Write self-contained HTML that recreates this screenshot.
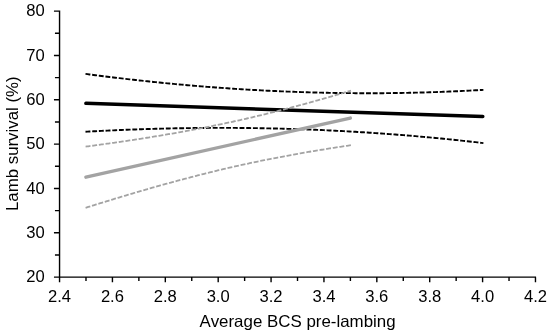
<!DOCTYPE html>
<html><head><meta charset="utf-8"><title>Lamb survival</title>
<style>
html,body{margin:0;padding:0;background:#fff;}
svg{display:block;}
text{font-family:"Liberation Sans",sans-serif;font-size:16.6px;fill:#000;font-kerning:none;}
</style></head><body>
<svg width="550" height="335" viewBox="0 0 550 335">
<rect width="550" height="335" fill="#fff"/>

<path d="M85.50,73.61 L87.50,73.88 L89.50,74.14 L91.50,74.40 L93.50,74.66 L95.50,74.92 L97.50,75.18 L99.50,75.43 L101.50,75.69 L103.50,75.94 L105.49,76.19 L107.49,76.43 L109.49,76.68 L111.49,76.92 L113.49,77.17 L115.49,77.41 L117.49,77.65 L119.49,77.88 L121.49,78.12 L123.49,78.35 L125.49,78.58 L127.49,78.81 L129.49,79.04 L131.49,79.27 L133.49,79.49 L135.49,79.71 L137.49,79.94 L139.49,80.16 L141.49,80.37 L143.49,80.59 L145.48,80.80 L147.48,81.01 L149.48,81.22 L151.48,81.43 L153.48,81.64 L155.48,81.85 L157.48,82.05 L159.48,82.25 L161.48,82.45 L163.48,82.65 L165.48,82.84 L167.48,83.04 L169.48,83.23 L171.48,83.42 L173.48,83.61 L175.48,83.79 L177.48,83.98 L179.48,84.16 L181.48,84.34 L183.48,84.52 L185.47,84.70 L187.47,84.88 L189.47,85.05 L191.47,85.22 L193.47,85.39 L195.47,85.56 L197.47,85.73 L199.47,85.89 L201.47,86.06 L203.47,86.22 L205.47,86.38 L207.47,86.53 L209.47,86.69 L211.47,86.84 L213.47,87.00 L215.47,87.15 L217.47,87.29 L219.47,87.44 L221.47,87.58 L223.47,87.73 L225.46,87.87 L227.46,88.01 L229.46,88.14 L231.46,88.28 L233.46,88.41 L235.46,88.54 L237.46,88.67 L239.46,88.80 L241.46,88.92 L243.46,89.05 L245.46,89.17 L247.46,89.29 L249.46,89.41 L251.46,89.52 L253.46,89.64 L255.46,89.75 L257.46,89.86 L259.46,89.97 L261.46,90.07 L263.46,90.18 L265.45,90.28 L267.45,90.38 L269.45,90.48 L271.45,90.58 L273.45,90.67 L275.45,90.77 L277.45,90.86 L279.45,90.95 L281.45,91.03 L283.45,91.12 L285.45,91.20 L287.45,91.28 L289.45,91.36 L291.45,91.44 L293.45,91.52 L295.45,91.59 L297.45,91.66 L299.45,91.73 L301.45,91.80 L303.45,91.87 L305.44,91.93 L307.44,91.99 L309.44,92.05 L311.44,92.11 L313.44,92.17 L315.44,92.22 L317.44,92.27 L319.44,92.32 L321.44,92.37 L323.44,92.42 L325.44,92.46 L327.44,92.50 L329.44,92.54 L331.44,92.58 L333.44,92.62 L335.44,92.65 L337.44,92.69 L339.44,92.72 L341.44,92.74 L343.44,92.77 L345.43,92.79 L347.43,92.82 L349.43,92.84 L351.43,92.86 L353.43,92.87 L355.43,92.89 L357.43,92.90 L359.43,92.91 L361.43,92.92 L363.43,92.92 L365.43,92.93 L367.43,92.93 L369.43,92.93 L371.43,92.93 L373.43,92.92 L375.43,92.92 L377.43,92.91 L379.43,92.90 L381.43,92.89 L383.43,92.88 L385.42,92.86 L387.42,92.84 L389.42,92.82 L391.42,92.80 L393.42,92.77 L395.42,92.75 L397.42,92.72 L399.42,92.69 L401.42,92.66 L403.42,92.62 L405.42,92.59 L407.42,92.55 L409.42,92.51 L411.42,92.46 L413.42,92.42 L415.42,92.37 L417.42,92.32 L419.42,92.27 L421.42,92.22 L423.42,92.16 L425.41,92.11 L427.41,92.05 L429.41,91.99 L431.41,91.92 L433.41,91.86 L435.41,91.79 L437.41,91.72 L439.41,91.65 L441.41,91.57 L443.41,91.50 L445.41,91.42 L447.41,91.34 L449.41,91.26 L451.41,91.17 L453.41,91.09 L455.41,91.00 L457.41,90.91 L459.41,90.81 L461.41,90.72 L463.41,90.62 L465.40,90.52 L467.40,90.42 L469.40,90.32 L471.40,90.21 L473.40,90.10 L475.40,89.99 L477.40,89.88 L479.40,89.77 L481.40,89.65 L483.40,89.53" fill="none" stroke="#000" stroke-width="1.9" stroke-dasharray="4.9 1.8" transform="translate(0,0.3)"/>
<path d="M85.50,131.77 L87.50,131.65 L89.50,131.54 L91.50,131.43 L93.50,131.32 L95.50,131.22 L97.50,131.11 L99.50,131.01 L101.50,130.91 L103.50,130.81 L105.49,130.71 L107.49,130.61 L109.49,130.52 L111.49,130.42 L113.49,130.33 L115.49,130.24 L117.49,130.15 L119.49,130.07 L121.49,129.98 L123.49,129.90 L125.49,129.82 L127.49,129.74 L129.49,129.66 L131.49,129.58 L133.49,129.51 L135.49,129.44 L137.49,129.36 L139.49,129.29 L141.49,129.23 L143.49,129.16 L145.48,129.09 L147.48,129.03 L149.48,128.97 L151.48,128.91 L153.48,128.85 L155.48,128.79 L157.48,128.74 L159.48,128.69 L161.48,128.64 L163.48,128.59 L165.48,128.54 L167.48,128.49 L169.48,128.45 L171.48,128.40 L173.48,128.36 L175.48,128.32 L177.48,128.28 L179.48,128.25 L181.48,128.21 L183.48,128.18 L185.47,128.15 L187.47,128.12 L189.47,128.09 L191.47,128.07 L193.47,128.04 L195.47,128.02 L197.47,128.00 L199.47,127.98 L201.47,127.96 L203.47,127.95 L205.47,127.93 L207.47,127.92 L209.47,127.91 L211.47,127.90 L213.47,127.89 L215.47,127.89 L217.47,127.88 L219.47,127.88 L221.47,127.88 L223.47,127.88 L225.46,127.88 L227.46,127.89 L229.46,127.90 L231.46,127.90 L233.46,127.91 L235.46,127.92 L237.46,127.94 L239.46,127.95 L241.46,127.97 L243.46,127.99 L245.46,128.01 L247.46,128.03 L249.46,128.05 L251.46,128.08 L253.46,128.11 L255.46,128.14 L257.46,128.17 L259.46,128.20 L261.46,128.23 L263.46,128.27 L265.45,128.31 L267.45,128.35 L269.45,128.39 L271.45,128.43 L273.45,128.47 L275.45,128.52 L277.45,128.57 L279.45,128.62 L281.45,128.67 L283.45,128.72 L285.45,128.78 L287.45,128.84 L289.45,128.89 L291.45,128.95 L293.45,129.02 L295.45,129.08 L297.45,129.15 L299.45,129.21 L301.45,129.28 L303.45,129.35 L305.44,129.43 L307.44,129.50 L309.44,129.58 L311.44,129.65 L313.44,129.73 L315.44,129.82 L317.44,129.90 L319.44,129.98 L321.44,130.07 L323.44,130.16 L325.44,130.25 L327.44,130.34 L329.44,130.43 L331.44,130.53 L333.44,130.63 L335.44,130.73 L337.44,130.83 L339.44,130.93 L341.44,131.04 L343.44,131.14 L345.43,131.25 L347.43,131.36 L349.43,131.47 L351.43,131.58 L353.43,131.70 L355.43,131.82 L357.43,131.94 L359.43,132.06 L361.43,132.18 L363.43,132.30 L365.43,132.43 L367.43,132.56 L369.43,132.69 L371.43,132.82 L373.43,132.95 L375.43,133.09 L377.43,133.22 L379.43,133.36 L381.43,133.50 L383.43,133.64 L385.42,133.79 L387.42,133.93 L389.42,134.08 L391.42,134.23 L393.42,134.38 L395.42,134.53 L397.42,134.69 L399.42,134.85 L401.42,135.00 L403.42,135.16 L405.42,135.33 L407.42,135.49 L409.42,135.66 L411.42,135.82 L413.42,135.99 L415.42,136.16 L417.42,136.34 L419.42,136.51 L421.42,136.69 L423.42,136.87 L425.41,137.05 L427.41,137.23 L429.41,137.41 L431.41,137.60 L433.41,137.79 L435.41,137.98 L437.41,138.17 L439.41,138.36 L441.41,138.56 L443.41,138.75 L445.41,138.95 L447.41,139.15 L449.41,139.35 L451.41,139.56 L453.41,139.76 L455.41,139.97 L457.41,140.18 L459.41,140.39 L461.41,140.61 L463.41,140.82 L465.40,141.04 L467.40,141.26 L469.40,141.48 L471.40,141.70 L473.40,141.92 L475.40,142.15 L477.40,142.38 L479.40,142.61 L481.40,142.84 L483.40,143.07" fill="none" stroke="#000" stroke-width="1.9" stroke-dasharray="4.9 1.8"/>
<path d="M85.90,103.00 L482.80,116.20" fill="none" stroke="#000" stroke-width="3.5" stroke-linecap="round" transform="translate(0,0.35)"/>
<path d="M85.60,146.63 L86.93,146.45 L88.27,146.27 L89.60,146.09 L90.93,145.92 L92.27,145.74 L93.60,145.56 L94.94,145.38 L96.27,145.19 L97.60,145.01 L98.94,144.83 L100.27,144.65 L101.60,144.46 L102.94,144.28 L104.27,144.09 L105.61,143.91 L106.94,143.72 L108.27,143.53 L109.61,143.34 L110.94,143.15 L112.27,142.97 L113.61,142.78 L114.94,142.58 L116.27,142.39 L117.61,142.20 L118.94,142.01 L120.28,141.81 L121.61,141.62 L122.94,141.42 L124.28,141.23 L125.61,141.03 L126.94,140.83 L128.28,140.63 L129.61,140.43 L130.94,140.23 L132.28,140.03 L133.61,139.83 L134.95,139.62 L136.28,139.42 L137.61,139.22 L138.95,139.01 L140.28,138.80 L141.61,138.59 L142.95,138.39 L144.28,138.18 L145.62,137.97 L146.95,137.75 L148.28,137.54 L149.62,137.33 L150.95,137.11 L152.28,136.90 L153.62,136.68 L154.95,136.46 L156.28,136.25 L157.62,136.03 L158.95,135.81 L160.29,135.58 L161.62,135.36 L162.95,135.14 L164.29,134.91 L165.62,134.69 L166.95,134.46 L168.29,134.23 L169.62,134.00 L170.95,133.77 L172.29,133.54 L173.62,133.31 L174.96,133.07 L176.29,132.84 L177.62,132.60 L178.96,132.36 L180.29,132.13 L181.62,131.89 L182.96,131.65 L184.29,131.40 L185.63,131.16 L186.96,130.91 L188.29,130.67 L189.63,130.42 L190.96,130.17 L192.29,129.92 L193.63,129.67 L194.96,129.42 L196.29,129.16 L197.63,128.91 L198.96,128.65 L200.30,128.40 L201.63,128.14 L202.96,127.88 L204.30,127.61 L205.63,127.35 L206.96,127.09 L208.30,126.82 L209.63,126.55 L210.96,126.28 L212.30,126.01 L213.63,125.74 L214.97,125.47 L216.30,125.20 L217.63,124.92 L218.97,124.64 L220.30,124.37 L221.63,124.09 L222.97,123.80 L224.30,123.52 L225.64,123.24 L226.97,122.95 L228.30,122.67 L229.64,122.38 L230.97,122.09 L232.30,121.80 L233.64,121.50 L234.97,121.21 L236.30,120.91 L237.64,120.62 L238.97,120.32 L240.31,120.02 L241.64,119.72 L242.97,119.42 L244.31,119.11 L245.64,118.81 L246.97,118.50 L248.31,118.19 L249.64,117.88 L250.97,117.57 L252.31,117.26 L253.64,116.94 L254.98,116.63 L256.31,116.31 L257.64,115.99 L258.98,115.67 L260.31,115.35 L261.64,115.03 L262.98,114.71 L264.31,114.38 L265.65,114.05 L266.98,113.73 L268.31,113.40 L269.65,113.07 L270.98,112.73 L272.31,112.40 L273.65,112.07 L274.98,111.73 L276.31,111.39 L277.65,111.05 L278.98,110.71 L280.32,110.37 L281.65,110.03 L282.98,109.69 L284.32,109.34 L285.65,108.99 L286.98,108.65 L288.32,108.30 L289.65,107.95 L290.98,107.59 L292.32,107.24 L293.65,106.89 L294.99,106.53 L296.32,106.17 L297.65,105.82 L298.99,105.46 L300.32,105.10 L301.65,104.74 L302.99,104.37 L304.32,104.01 L305.66,103.65 L306.99,103.28 L308.32,102.91 L309.66,102.54 L310.99,102.17 L312.32,101.80 L313.66,101.43 L314.99,101.06 L316.32,100.69 L317.66,100.31 L318.99,99.94 L320.33,99.56 L321.66,99.18 L322.99,98.80 L324.33,98.42 L325.66,98.04 L326.99,97.66 L328.33,97.28 L329.66,96.89 L330.99,96.51 L332.33,96.12 L333.66,95.73 L335.00,95.35 L336.33,94.96 L337.66,94.57 L339.00,94.18 L340.33,93.79 L341.66,93.39 L343.00,93.00 L344.33,92.61 L345.67,92.21 L347.00,91.81 L348.33,91.42 L349.67,91.02 L351.00,90.62" fill="none" stroke="#a3a3a3" stroke-width="1.8" stroke-dasharray="4.9 1.8"/>
<path d="M85.60,207.81 L86.93,207.39 L88.27,206.97 L89.60,206.55 L90.93,206.13 L92.27,205.72 L93.60,205.30 L94.94,204.89 L96.27,204.47 L97.60,204.06 L98.94,203.64 L100.27,203.23 L101.60,202.82 L102.94,202.41 L104.27,202.00 L105.61,201.59 L106.94,201.18 L108.27,200.77 L109.61,200.36 L110.94,199.95 L112.27,199.55 L113.61,199.14 L114.94,198.73 L116.27,198.33 L117.61,197.93 L118.94,197.52 L120.28,197.12 L121.61,196.72 L122.94,196.32 L124.28,195.92 L125.61,195.52 L126.94,195.12 L128.28,194.73 L129.61,194.33 L130.94,193.93 L132.28,193.54 L133.61,193.15 L134.95,192.75 L136.28,192.36 L137.61,191.97 L138.95,191.58 L140.28,191.19 L141.61,190.80 L142.95,190.41 L144.28,190.03 L145.62,189.64 L146.95,189.26 L148.28,188.87 L149.62,188.49 L150.95,188.11 L152.28,187.73 L153.62,187.35 L154.95,186.97 L156.28,186.59 L157.62,186.22 L158.95,185.84 L160.29,185.47 L161.62,185.09 L162.95,184.72 L164.29,184.35 L165.62,183.98 L166.95,183.61 L168.29,183.24 L169.62,182.87 L170.95,182.51 L172.29,182.14 L173.62,181.78 L174.96,181.42 L176.29,181.06 L177.62,180.70 L178.96,180.34 L180.29,179.98 L181.62,179.63 L182.96,179.27 L184.29,178.92 L185.63,178.56 L186.96,178.21 L188.29,177.86 L189.63,177.51 L190.96,177.17 L192.29,176.82 L193.63,176.48 L194.96,176.13 L196.29,175.79 L197.63,175.45 L198.96,175.11 L200.30,174.77 L201.63,174.43 L202.96,174.10 L204.30,173.76 L205.63,173.43 L206.96,173.10 L208.30,172.77 L209.63,172.44 L210.96,172.11 L212.30,171.79 L213.63,171.46 L214.97,171.14 L216.30,170.81 L217.63,170.49 L218.97,170.17 L220.30,169.86 L221.63,169.54 L222.97,169.23 L224.30,168.91 L225.64,168.60 L226.97,168.29 L228.30,167.98 L229.64,167.67 L230.97,167.37 L232.30,167.06 L233.64,166.76 L234.97,166.45 L236.30,166.15 L237.64,165.85 L238.97,165.56 L240.31,165.26 L241.64,164.97 L242.97,164.67 L244.31,164.38 L245.64,164.09 L246.97,163.80 L248.31,163.51 L249.64,163.23 L250.97,162.94 L252.31,162.66 L253.64,162.38 L254.98,162.09 L256.31,161.82 L257.64,161.54 L258.98,161.26 L260.31,160.99 L261.64,160.71 L262.98,160.44 L264.31,160.17 L265.65,159.90 L266.98,159.63 L268.31,159.36 L269.65,159.10 L270.98,158.83 L272.31,158.57 L273.65,158.31 L274.98,158.05 L276.31,157.79 L277.65,157.53 L278.98,157.28 L280.32,157.02 L281.65,156.77 L282.98,156.52 L284.32,156.27 L285.65,156.02 L286.98,155.77 L288.32,155.52 L289.65,155.28 L290.98,155.03 L292.32,154.79 L293.65,154.55 L294.99,154.31 L296.32,154.07 L297.65,153.83 L298.99,153.59 L300.32,153.36 L301.65,153.12 L302.99,152.89 L304.32,152.66 L305.66,152.42 L306.99,152.19 L308.32,151.96 L309.66,151.74 L310.99,151.51 L312.32,151.28 L313.66,151.06 L314.99,150.84 L316.32,150.61 L317.66,150.39 L318.99,150.17 L320.33,149.95 L321.66,149.74 L322.99,149.52 L324.33,149.30 L325.66,149.09 L326.99,148.87 L328.33,148.66 L329.66,148.45 L330.99,148.24 L332.33,148.03 L333.66,147.82 L335.00,147.61 L336.33,147.40 L337.66,147.19 L339.00,146.99 L340.33,146.78 L341.66,146.58 L343.00,146.38 L344.33,146.18 L345.67,145.97 L347.00,145.77 L348.33,145.57 L349.67,145.38 L351.00,145.18" fill="none" stroke="#a3a3a3" stroke-width="1.8" stroke-dasharray="4.9 1.8"/>
<path d="M85.90,177.00 L350.30,117.90" fill="none" stroke="#a3a3a3" stroke-width="3.4" stroke-linecap="round" transform="translate(0,0.15)"/>
<path d="M59.55,10.50 V277.14 M58.95,277.14 H536.07 M53.95,277.14 H59.55 M54.95,254.97 H59.55 M53.95,232.80 H59.55 M54.95,210.63 H59.55 M53.95,188.46 H59.55 M54.95,166.29 H59.55 M53.95,144.12 H59.55 M54.95,121.95 H59.55 M53.95,99.78 H59.55 M54.95,77.61 H59.55 M53.95,55.44 H59.55 M54.95,33.27 H59.55 M53.95,11.10 H59.55 M59.55,277.14 V282.24 M85.99,277.14 V280.94 M112.43,277.14 V282.24 M138.87,277.14 V280.94 M165.31,277.14 V282.24 M191.75,277.14 V280.94 M218.19,277.14 V282.24 M244.63,277.14 V280.94 M271.07,277.14 V282.24 M297.51,277.14 V280.94 M323.95,277.14 V282.24 M350.39,277.14 V280.94 M376.83,277.14 V282.24 M403.27,277.14 V280.94 M429.71,277.14 V282.24 M456.15,277.14 V280.94 M482.59,277.14 V282.24 M509.03,277.14 V280.94 M535.47,277.14 V282.24" fill="none" stroke="#000" stroke-width="1.4"/>
<text x="44.70" y="282.34" text-anchor="end">20</text>
<text x="44.70" y="238.00" text-anchor="end">30</text>
<text x="44.70" y="193.66" text-anchor="end">40</text>
<text x="44.70" y="149.32" text-anchor="end">50</text>
<text x="44.70" y="104.98" text-anchor="end">60</text>
<text x="44.70" y="60.64" text-anchor="end">70</text>
<text x="44.70" y="16.30" text-anchor="end">80</text>
<text x="59.55" y="302.0" text-anchor="middle">2.4</text>
<text x="112.43" y="302.0" text-anchor="middle">2.6</text>
<text x="165.31" y="302.0" text-anchor="middle">2.8</text>
<text x="218.19" y="302.0" text-anchor="middle">3.0</text>
<text x="271.07" y="302.0" text-anchor="middle">3.2</text>
<text x="323.95" y="302.0" text-anchor="middle">3.4</text>
<text x="376.83" y="302.0" text-anchor="middle">3.6</text>
<text x="429.71" y="302.0" text-anchor="middle">3.8</text>
<text x="482.59" y="302.0" text-anchor="middle">4.0</text>
<text x="535.47" y="302.0" text-anchor="middle">4.2</text>
<text x="199.4" y="326.7" style="font-size:16.5px" textLength="196.2" lengthAdjust="spacingAndGlyphs">Average BCS pre-lambing</text>
<text transform="translate(17.8,211.1) rotate(-90)" style="font-size:16.5px" textLength="134.8" lengthAdjust="spacingAndGlyphs">Lamb survival (%)</text>
</svg></body></html>
